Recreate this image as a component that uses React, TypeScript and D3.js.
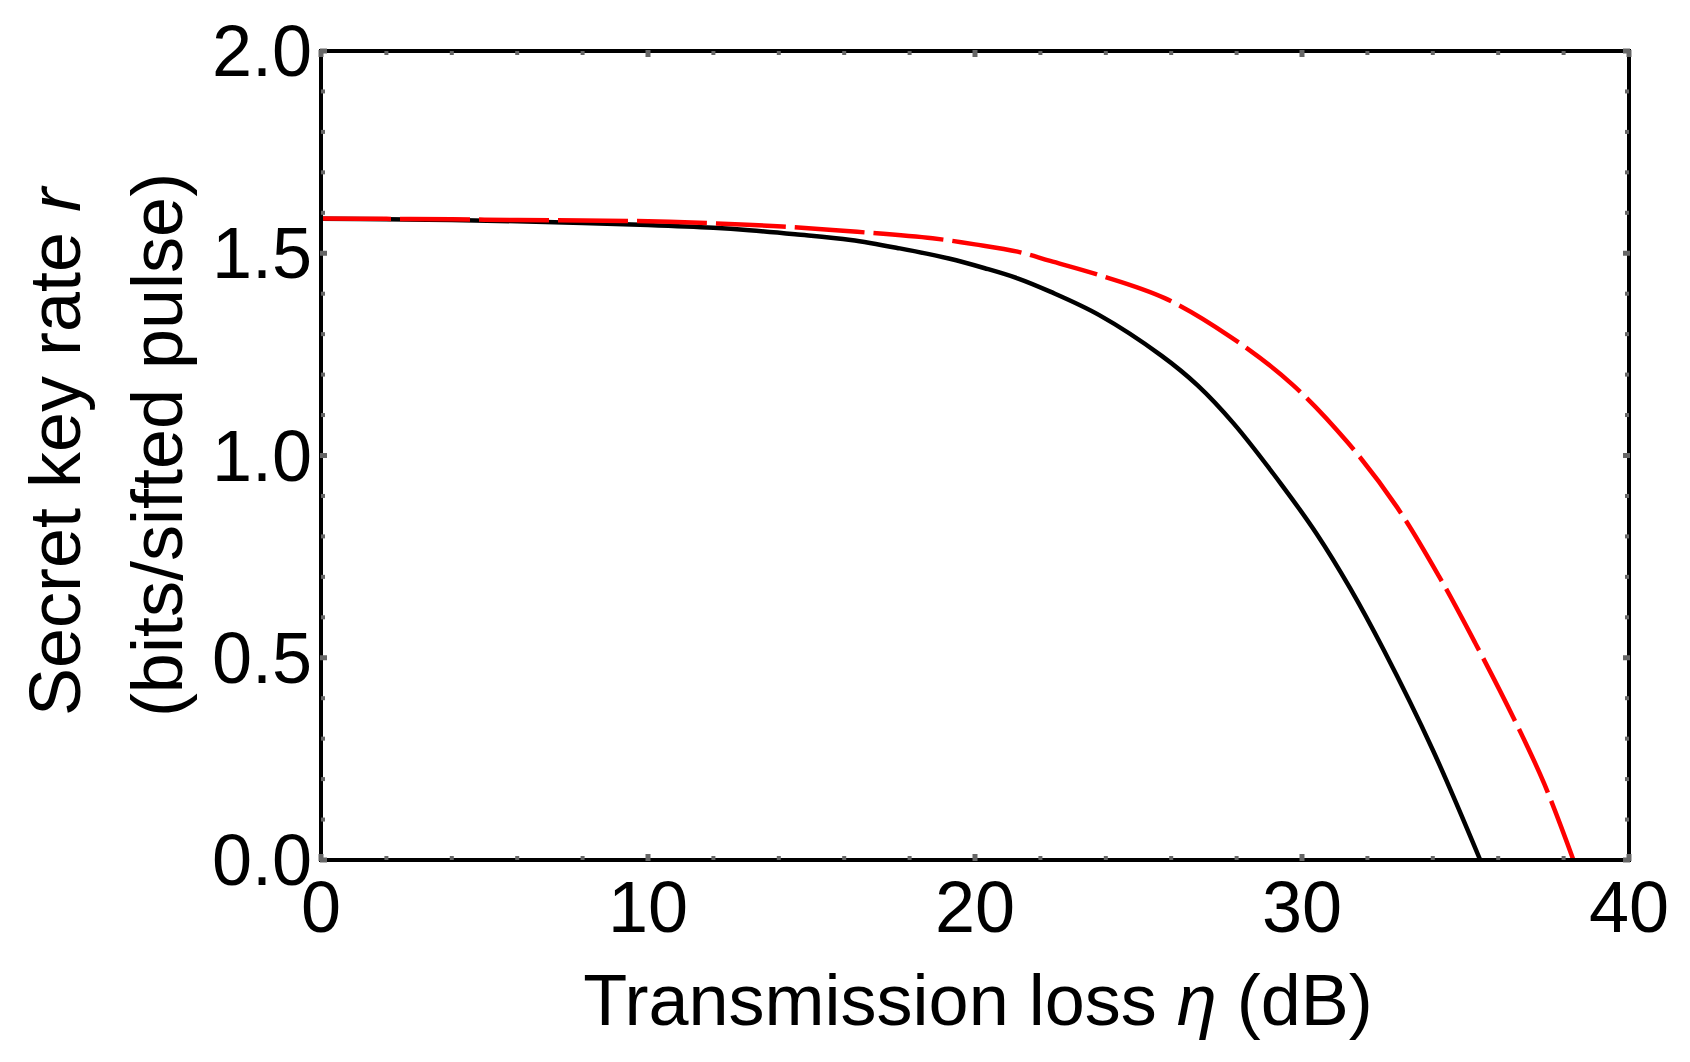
import React from "react";
import * as d3 from "d3";

// ---- data ----
const xDomain: [number, number] = [0, 40];
const yDomain: [number, number] = [0, 2];
const xMajorTicks = [0, 10, 20, 30, 40];
const yMajorTicks = [0, 0.5, 1.0, 1.5, 2.0];
const xMinorStep = 2;
const yMinorStep = 0.1;

const blackCurve: [number, number][] = [
  [0, 1.585], [2, 1.584], [4, 1.582], [6, 1.579], [8, 1.575], [10, 1.57],
  [12, 1.563], [13.1, 1.557], [14.5, 1.547], [16.2, 1.533], [17.7, 1.512],
  [19.2, 1.487], [20.3, 1.463], [21.3, 1.438], [22.3, 1.405], [23.8, 1.347],
  [25.7, 1.247], [26.8, 1.174], [27.9, 1.08], [29.4, 0.925], [30.45, 0.806],
  [31.47, 0.672], [32.5, 0.519], [34.0, 0.272], [35.45, 0],
];

const redCurve: [number, number][] = [
  [0, 1.586], [2, 1.585], [4, 1.584], [6, 1.582], [8, 1.581], [10, 1.579],
  [12, 1.574], [14.1, 1.566], [16.4, 1.553], [18.7, 1.537], [20, 1.522],
  [21.3, 1.504], [22.3, 1.481], [23.8, 1.446], [25.8, 1.389], [27.8, 1.294],
  [29.7, 1.176], [31.4, 1.032], [32.9, 0.873], [34.2, 0.7], [35.3, 0.536],
  [36.5, 0.346], [37.4, 0.19], [38.3, 0],
];

const xLabel = "Transmission loss ";
const yLabelLine1 = "Secret key rate ";
const yLabelLine2 = "(bits/sifted pulse)";

// ---- layout ----
const W = 1690;
const H = 1062;
const L = 321, R = 1629, T = 51, B = 860;
const FONT = "Liberation Sans, Arial, Helvetica, sans-serif";
const FS = 72;
const textStyle: React.CSSProperties = { fontFamily: FONT, fontSize: FS };

export default function App() {
  const x = d3.scaleLinear().domain(xDomain).range([L, R]);
  const y = d3.scaleLinear().domain(yDomain).range([B, T]);
  const line = d3
    .line<[number, number]>()
    .x((d) => x(d[0]))
    .y((d) => y(d[1]))
    .curve(d3.curveCatmullRom.alpha(0.5));

  const xMinor = d3.range(xDomain[0], xDomain[1] + 0.001, xMinorStep).filter(
    (v) => !xMajorTicks.some((m) => Math.abs(m - v) < 1e-6)
  );
  const yMinor = d3.range(yDomain[0], yDomain[1] + 0.0001, yMinorStep).filter(
    (v) => !yMajorTicks.some((m) => Math.abs(m - v) < 1e-6)
  );

  const tickColor = "#666666";
  const minLen = 4, majLen = 6;

  const fmtY = d3.format(".1f");

  return (
    <svg
      width={W}
      height={H}
      style={{ position: "absolute", left: 0, top: 0, background: "#fff", fontFamily: FONT }}
    >
      <rect x={0} y={0} width={W} height={H} fill="#fff" />
      {/* curves */}
      <path d={line(blackCurve) || ""} fill="none" stroke="#000" strokeWidth={4.5} />
      <path
        d={line(redCurve) || ""}
        fill="none"
        stroke="#ff0000"
        strokeWidth={4.5}
        strokeDasharray="70 9"
      />
      {/* frame */}
      <rect x={L} y={T} width={R - L} height={B - T} fill="none" stroke="#000" strokeWidth={4} />
      {/* x ticks bottom & top */}
      {xMinor.map((v) => (
        <g key={"xm" + v}>
          <line x1={x(v)} x2={x(v)} y1={B} y2={B - minLen} stroke={tickColor} strokeWidth={4} />
          <line x1={x(v)} x2={x(v)} y1={T} y2={T + minLen} stroke={tickColor} strokeWidth={4} />
        </g>
      ))}
      {xMajorTicks.map((v) => (
        <g key={"xM" + v}>
          <line x1={x(v)} x2={x(v)} y1={B + 1} y2={B - majLen} stroke={tickColor} strokeWidth={5} />
          <line x1={x(v)} x2={x(v)} y1={T - 1} y2={T + majLen} stroke={tickColor} strokeWidth={5} />
        </g>
      ))}
      {/* y ticks left & right */}
      {yMinor.map((v) => (
        <g key={"ym" + v}>
          <line x1={L} x2={L + minLen} y1={y(v)} y2={y(v)} stroke={tickColor} strokeWidth={4} />
          <line x1={R} x2={R - minLen} y1={y(v)} y2={y(v)} stroke={tickColor} strokeWidth={4} />
        </g>
      ))}
      {yMajorTicks.map((v) => (
        <g key={"yM" + v}>
          <line x1={L - 1} x2={L + majLen} y1={y(v)} y2={y(v)} stroke={tickColor} strokeWidth={5} />
          <line x1={R + 1} x2={R - majLen} y1={y(v)} y2={y(v)} stroke={tickColor} strokeWidth={5} />
        </g>
      ))}
      {/* x tick labels */}
      {xMajorTicks.map((v) => (
        <text key={"xl" + v} x={x(v)} y={932} style={textStyle} textAnchor="middle" fill="#000">
          {String(v)}
        </text>
      ))}
      {/* y tick labels */}
      {yMajorTicks.map((v) => (
        <text key={"yl" + v} x={312} y={y(v) + 25} style={textStyle} textAnchor="end" fill="#000">
          {fmtY(v)}
        </text>
      ))}
      {/* x axis label */}
      <text x={(L + R) / 2 + 3} y={1025} style={textStyle} textAnchor="middle" fill="#000">
        {xLabel}
        <tspan style={{ fontStyle: "italic" }}>η</tspan>
        {" (dB)"}
      </text>
      {/* y axis label */}
      <text
        transform={`translate(80, 452) rotate(-90)`}
        style={textStyle}
        textAnchor="middle"
        fill="#000"
      >
        {yLabelLine1}
        <tspan style={{ fontStyle: "italic" }}>r</tspan>
      </text>
      <text
        transform={`translate(182, 445) rotate(-90)`}
        style={textStyle}
        textAnchor="middle"
        fill="#000"
      >
        {yLabelLine2}
      </text>
    </svg>
  );
}
